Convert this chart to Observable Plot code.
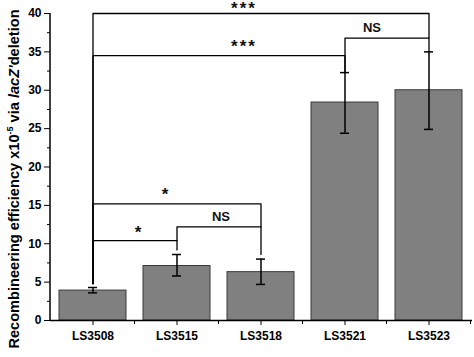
<!DOCTYPE html>
<html><head><meta charset="utf-8">
<script src="https://cdn.jsdelivr.net/npm/d3@7"></script>
<script src="https://cdn.jsdelivr.net/npm/@observablehq/plot@0.6"></script>
<style>
body{margin:0;background:#fff;}
#chart{position:relative;width:474px;height:357px;}
svg{font-family:"Liberation Sans",Arial,sans-serif;}
</style></head>
<body><div id="chart"></div>
<script>
const strains = ["LS3508","LS3515","LS3518","LS3521","LS3523"];
const means   = [3.9, 7.1, 6.3, 28.4, 30.0];
const errLow  = [3.6, 5.8, 4.7, 24.4, 24.9];
const errHigh = [4.3, 8.6, 8.0, 32.3, 35.0];
const yTicks = [0,5,10,15,20,25,30,35,40];
const yMinorTicks = [2.5,7.5,12.5,17.5,22.5,27.5,32.5,37.5];
// significance brackets: from strain, to strain, bracket level, drop on each side
const brFrom  = ["LS3508","LS3508","LS3521","LS3508","LS3508","LS3515"];
const brTo    = ["LS3523","LS3521","LS3523","LS3518","LS3515","LS3518"];
const brLevel = [40, 34.5, 36.8, 15.2, 10.4, 12.2];
const brFromEnd = [4.8, 4.8, 32.3, 4.8, 4.8, 9.2];
const brToEnd   = [35.0, 32.3, 36.8, 8.6, 10.4, 12.2];
const sigLabels = ["***","***","NS","*","*","NS"];
const sigAt     = ["LS3518","LS3518","LS3523","LS3515","LS3515","LS3518"];
const sigY      = [41.5, 35.7, 38.1, 16.4, 11.5, 13.5];
const sigLine   = ["top","middle","middle","middle","middle","middle"];
const sigDx     = [-17, -17, -57, -11, -38, -40];

const bars = strains.map((s,i)=>({strain:s, mean:means[i], lo:errLow[i], hi:errHigh[i]}));
const brackets = [];
brFrom.forEach((f,i)=>{
  brackets.push({id:i, x:f, y:brFromEnd[i]});
  brackets.push({id:i, x:f, y:brLevel[i]});
  brackets.push({id:i, x:brTo[i], y:brLevel[i]});
  brackets.push({id:i, x:brTo[i], y:brToEnd[i]});
});

const labelMarks = sigLabels.map((t,i)=>Plot.text([{x:sigAt[i], y:sigY[i], t}], {
  x:"x", y:"y", text:"t", dx:sigDx[i], lineAnchor:sigLine[i],
  fontSize: t==="NS"?13:17, fontWeight:"bold", fill:"#111",
  className: t==="NS" ? "sig-ns" : "sig-star"
}));

const plot = Plot.plot({
  width:474, height:357,
  marginLeft:50, marginRight:2, marginTop:13, marginBottom:37,
  style:{fontFamily:"'Liberation Sans', Arial, sans-serif", background:"#fff"},
  x:{domain:strains, paddingInner:0.2, paddingOuter:0.1, label:null},
  y:{domain:[0,40], label:null},
  marks:[
    Plot.barY(bars, {x:"strain", y:"mean", fill:"#808080", stroke:"#3a3a3a", strokeWidth:1}),
    Plot.ruleY([0], {stroke:"#000", strokeWidth:1.5}),
    Plot.axisY({ticks:yMinorTicks, tickSize:3, tickFormat:()=>"", stroke:"#000"}),
    Plot.axisY({ticks:yTicks, tickSize:6, tickPadding:3, fontSize:12, fontWeight:"bold", stroke:"#000", fill:"#000"}),
    Plot.axisX({tickSize:5, tickPadding:6, fontSize:12, fontWeight:"bold", fill:"#000", stroke:"#000"}),
    Plot.ruleX(bars, {x:"strain", y1:"lo", y2:"hi", stroke:"#000", strokeWidth:1.5}),
    Plot.tickY(bars, {x:"strain", y:"lo", insetLeft:38, insetRight:38, stroke:"#000", strokeWidth:1.5}),
    Plot.tickY(bars, {x:"strain", y:"hi", insetLeft:38, insetRight:38, stroke:"#000", strokeWidth:1.5}),
    Plot.line(brackets, {x:"x", y:"y", z:"id", stroke:"#000", strokeWidth:1.3, curve:"linear"}),
    ...labelMarks
  ]
});
document.getElementById("chart").appendChild(plot);

const svg = d3.select(plot);
svg.selectAll(".sig-star text").attr("letter-spacing", 2);
const yS = plot.scale("y");
const xS = plot.scale("x");
const y0 = yS.apply(0);
// y axis line
svg.append("line").attr("x1",50).attr("x2",50)
  .attr("y1", y0).attr("y2", yS.apply(40)).attr("stroke","#000").attr("stroke-width",1.5);
// small ticks at band boundaries of the x axis
const step = xS.step ?? (xS.bandwidth / 0.8);
strains.forEach((s,i)=>{
  if (i===0) return;
  const bx = xS.apply(s) + xS.bandwidth/2 - step/2;
  svg.append("line").attr("x1",bx).attr("x2",bx).attr("y1",y0).attr("y2",y0+4).attr("stroke","#000").attr("stroke-width",1);
});
{
  const bx = xS.apply(strains[strains.length-1]) + xS.bandwidth/2 + step/2;
  svg.append("line").attr("x1",Math.min(bx,472)).attr("x2",Math.min(bx,472)).attr("y1",y0).attr("y2",y0+4).attr("stroke","#000").attr("stroke-width",1);
}
// rotated y title with superscript and italic parts
const t = svg.append("text")
  .attr("transform","translate(19,179) rotate(-90)")
  .attr("text-anchor","middle")
  .attr("font-size",14.6).attr("font-weight","bold").attr("fill","#000")
  .attr("font-family","'Liberation Sans', Arial, sans-serif");
t.append("tspan").text("Recombineering efficiency x10");
t.append("tspan").attr("font-size",9).attr("dy",-6).text("-5");
t.append("tspan").attr("dy",6).text(" via ");
t.append("tspan").attr("font-style","italic").text("lacZ'");
t.append("tspan").text("deletion");
</script></body></html>
